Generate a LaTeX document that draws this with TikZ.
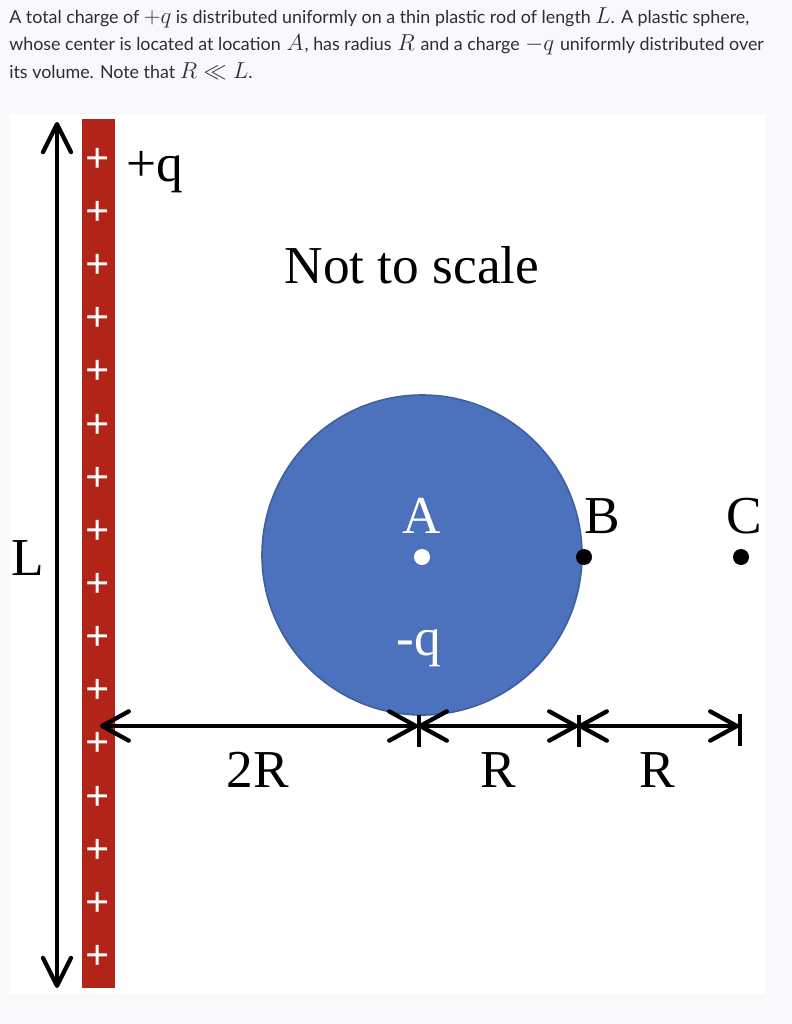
\documentclass[tikz,border=0pt]{standalone}
\usepackage{fontspec}
\usepackage{amssymb}
\setmainfont{Liberation Serif}
\newfontfamily\promptfont{Lato}
\usetikzlibrary{arrows.meta}
\definecolor{pagegray}{HTML}{F9F9FB}
\definecolor{rodred}{HTML}{B22417}
\definecolor{sphereblue}{HTML}{4C72BD}
\definecolor{sphereedge}{HTML}{3F5F9E}
\definecolor{prompttext}{HTML}{2D2D35}
\newcommand{\promptmath}[1]{{\fontsize{16.5}{15}\selectfont$#1$}}
\newcommand{\promptgap}[1]{\hspace{0.9pt}\promptmath{#1}\hspace{0.9pt}}
\tikzset{
	prompt/.style={anchor=base west, inner sep=0pt, text=prompttext, font=\promptfont\fontsize{13.4}{15}\selectfont},
	plus/.style={inner sep=0pt, text=white, font=\bfseries\fontsize{32}{32}\selectfont},
	label/.style={inner sep=0pt, font=\fontsize{40}{40}\selectfont},
	dot/.style={circle, fill=black, inner sep=0pt, minimum size=12pt},
	dimline/.style={line width=2.9pt, {Straight Barb[length=20pt,width=22pt,line width=3.2pt,round]}-{Straight Barb[length=20pt,width=22pt,line width=3.2pt,round]}},
	lengthline/.style={line width=3pt, {Straight Barb[length=21pt,width=21pt,line width=3.2pt,round]}-{Straight Barb[length=21pt,width=21pt,line width=3.2pt,round]}},
	tick/.style={line width=2.3pt}
}

\begin{document}
\begin{tikzpicture}[x=0.75pt, y=-0.75pt]
	%%%%% PAGE %%%%%
	\useasboundingbox (0, 0) rectangle (792, 1024);
	\fill[pagegray] (0, 0) rectangle (792, 1024);
	\fill[white] (9, 114) rectangle (765, 994);

	\node[prompt] (lineone) at (9, 24) {A total charge of \promptmath{+q} is distributed uniformly on a thin plastic rod of length \promptmath{L}. A plastic sphere,};
	\node[prompt] (linetwo) at (9, 51) {whose center is located at location \promptgap{A}, has radius \promptgap{R} and a charge \promptgap{-q} uniformly distributed over};
	\node[prompt] (linethree) at (9, 79) {its volume. Note that \promptmath{R \ll L}.};

	%%%%% ROD %%%%%
	\fill[rodred] (82, 119) rectangle (115, 988);
	\node[plus] (plusa) at (97.5, 160) {+};
	\node[plus] (plusb) at (97.5, 213) {+};
	\node[plus] (plusc) at (97.5, 266) {+};
	\node[plus] (plusd) at (97.5, 319) {+};
	\node[plus] (pluse) at (97.5, 372) {+};
	\node[plus] (plusf) at (97.5, 426) {+};
	\node[plus] (plusg) at (97.5, 479) {+};
	\node[plus] (plush) at (97.5, 532) {+};
	\node[plus] (plusi) at (97.5, 585) {+};
	\node[plus] (plusj) at (97.5, 638) {+};
	\node[plus] (plusk) at (97.5, 691) {+};
	\node[plus] (plusl) at (97.5, 744) {+};
	\node[plus] (plusm) at (97.5, 798) {+};
	\node[plus] (plusn) at (97.5, 851) {+};
	\node[plus] (pluso) at (97.5, 904) {+};
	\node[plus] (plusp) at (97.5, 957) {+};

	\coordinate (ltop) at (57, 122);
	\coordinate (lbottom) at (57, 988);
	\draw[lengthline] (ltop) -- (lbottom);
	\node[label] (lname) at (28, 558) {L};
	\node[label] (rodcharge) at (155, 172) {+q};
	\node[label] (note) at (412, 265) {Not to scale};

	%%%%% SPHERE %%%%%
	\node[circle, draw=sphereedge, fill=sphereblue, line width=1.2pt, inner sep=0pt, minimum size=240pt] (sphere) at (422, 555) {};
	\node[dot, fill=white] (pointa) at (422, 557) {};
	\node[dot] (pointb) at (584, 557) {};
	\node[dot] (pointc) at (741, 557) {};
	\node[label, text=white] (namea) at (422, 516) {A};
	\node[label] (nameb) at (602, 516) {B};
	\node[label] (namec) at (744, 516) {C};
	\node[label, text=white] (spherecharge) at (419, 648) {-q};

	%%%%% DISTANCES %%%%%
	\coordinate (rodend) at (100, 726);
	\coordinate (centertop) at (419, 715);
	\coordinate (centerbottom) at (419, 747);
	\coordinate (centermid) at (418, 726);
	\coordinate (edgetop) at (579, 715);
	\coordinate (edgebottom) at (579, 747);
	\coordinate (edgemid) at (578, 726);
	\coordinate (endtop) at (740, 714);
	\coordinate (endbottom) at (740, 746);
	\coordinate (endmid) at (739, 726);

	\draw[dimline] (rodend) -- (centermid);
	\draw[dimline] (centermid) -- (edgemid);
	\draw[dimline] (edgemid) -- (endmid);
	\draw[tick] (centertop) -- (centerbottom);
	\draw[tick] (edgetop) -- (edgebottom);
	\draw[tick] (endtop) -- (endbottom);

	\node[label] (twor) at (258, 770) {2R};
	\node[label] (rone) at (498, 770) {R};
	\node[label] (rtwo) at (657, 770) {R};
\end{tikzpicture}
\end{document}
